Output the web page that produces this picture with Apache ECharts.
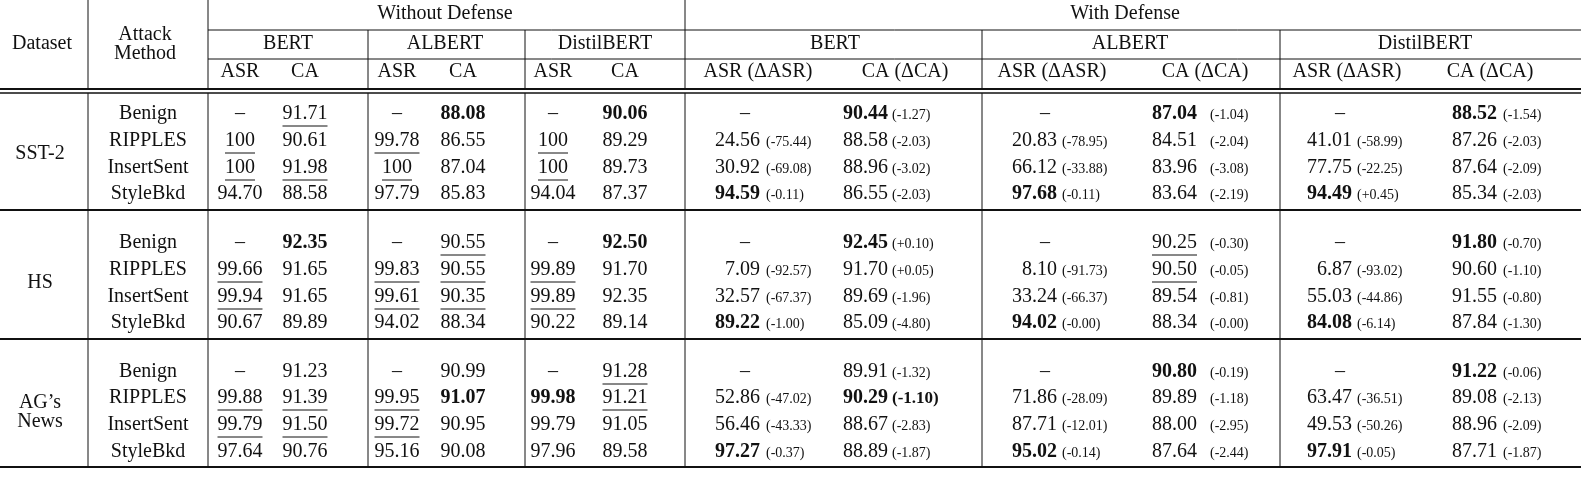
<!DOCTYPE html>
<html><head><meta charset="utf-8">
<script src="https://cdn.jsdelivr.net/npm/echarts@6/dist/echarts.min.js"></script>
<style>html,body{margin:0;background:#fff}#c{width:1581px;height:488px}</style>
</head><body><div id="c"></div>
<script>
const datasets = ['SST-2', 'HS', 'AG\u2019s\nNews'];
const methods = ['Benign', 'RIPPLES', 'InsertSent', 'StyleBkd'];
const models = ['BERT', 'ALBERT', 'DistilBERT'];

// without defense: ASR, CA per model
const noDef = [
  ['–','91.71','–','88.08','–','90.06'],
  ['100','90.61','99.78','86.55','100','89.29'],
  ['100','91.98','100','87.04','100','89.73'],
  ['94.70','88.58','97.79','85.83','94.04','87.37'],
  ['–','92.35','–','90.55','–','92.50'],
  ['99.66','91.65','99.83','90.55','99.89','91.70'],
  ['99.94','91.65','99.61','90.35','99.89','92.35'],
  ['90.67','89.89','94.02','88.34','90.22','89.14'],
  ['–','91.23','–','90.99','–','91.28'],
  ['99.88','91.39','99.95','91.07','99.98','91.21'],
  ['99.79','91.50','99.72','90.95','99.79','91.05'],
  ['97.64','90.76','95.16','90.08','97.96','89.58']
];
// with defense values
const withDef = [
  ['–','90.44','–','87.04','–','88.52'],
  ['24.56','88.58','20.83','84.51','41.01','87.26'],
  ['30.92','88.96','66.12','83.96','77.75','87.64'],
  ['94.59','86.55','97.68','83.64','94.49','85.34'],
  ['–','92.45','–','90.25','–','91.80'],
  ['7.09','91.70','8.10','90.50','6.87','90.60'],
  ['32.57','89.69','33.24','89.54','55.03','91.55'],
  ['89.22','85.09','94.02','88.34','84.08','87.84'],
  ['–','89.91','–','90.80','–','91.22'],
  ['52.86','90.29','71.86','89.89','63.47','89.08'],
  ['56.46','88.67','87.71','88.00','49.53','88.96'],
  ['97.27','88.89','95.02','87.64','97.91','87.71']
];
const deltas = [
  ['','(-1.27)','','(-1.04)','','(-1.54)'],
  ['(-75.44)','(-2.03)','(-78.95)','(-2.04)','(-58.99)','(-2.03)'],
  ['(-69.08)','(-3.02)','(-33.88)','(-3.08)','(-22.25)','(-2.09)'],
  ['(-0.11)','(-2.03)','(-0.11)','(-2.19)','(+0.45)','(-2.03)'],
  ['','(+0.10)','','(-0.30)','','(-0.70)'],
  ['(-92.57)','(+0.05)','(-91.73)','(-0.05)','(-93.02)','(-1.10)'],
  ['(-67.37)','(-1.96)','(-66.37)','(-0.81)','(-44.86)','(-0.80)'],
  ['(-1.00)','(-4.80)','(-0.00)','(-0.00)','(-6.14)','(-1.30)'],
  ['','(-1.32)','','(-0.19)','','(-0.06)'],
  ['(-47.02)','(-1.10)','(-28.09)','(-1.18)','(-36.51)','(-2.13)'],
  ['(-43.33)','(-2.83)','(-12.01)','(-2.95)','(-50.26)','(-2.09)'],
  ['(-0.37)','(-1.87)','(-0.14)','(-2.44)','(-0.05)','(-1.87)']
];
// emphasis: [table 'n'|'w', row, col]
const boldCells = [
  ['n',0,3],['n',0,5],['w',0,1],['w',0,3],['w',0,5],['w',3,0],['w',3,2],['w',3,4],
  ['n',4,1],['n',4,5],['w',4,1],['w',4,5],['w',7,0],['w',7,2],['w',7,4],
  ['n',9,3],['n',9,4],['w',8,3],['w',8,5],['w',9,1],['w',11,0],['w',11,2],['w',11,4]
];
const underlineCells = [
  ['n',0,1],['n',1,0],['n',1,2],['n',1,4],['n',2,0],['n',2,1],['n',2,2],['n',2,4],
  ['n',4,3],['n',5,0],['n',5,2],['n',5,3],['n',5,4],['n',6,0],['n',6,2],['n',6,3],['n',6,4],
  ['w',4,3],['w',5,3],
  ['n',8,5],['n',9,0],['n',9,1],['n',9,2],['n',9,5],['n',10,0],['n',10,1],['n',10,2]
];
const boldDelta = [[9,1]];

const FONT = '"Liberation Serif", "DejaVu Serif", serif';
const FS = 20, DS = 14;
const ctx = document.createElement('canvas').getContext('2d');
function tw(t, size, bold) { ctx.font = (bold ? 'bold ' : '') + size + 'px ' + FONT; return ctx.measureText(t).width; }
const has = (list, t, r, c) => list.some(e => e[0] === t && e[1] === r && e[2] === c);

const rowY = [114,141,168,194, 243,270,297,323, 372,398,425,452];
const noDefX = [240,305,397,463,553,625];
const wdValR = [760,888,1057,1197,1352,1497];
const wdDelL = [766,892,1062,1210,1357,1503];
const wdDash = [745,1045,1340];

const g = [];
function text(t, x, y, opt) {
  opt = opt || {};
  g.push({ type: 'text', x, y, style: { text: t, font: (opt.bold ? 'bold ' : '') + (opt.size || FS) + 'px ' + FONT,
    fill: '#111', align: opt.align || 'center', verticalAlign: 'middle', lineHeight: 19 } });
  if (opt.under) {
    const w = tw(t, opt.size || FS, opt.bold);
    const x0 = opt.align === 'right' ? x - w : opt.align === 'left' ? x : x - w / 2;
    line(x0, y + 12, x0 + w, y + 12, 1);
  }
}
function line(x1, y1, x2, y2, w) {
  g.push({ type: 'line', shape: { x1, y1, x2, y2 }, style: { stroke: '#111', lineWidth: w || 1 } });
}

// header
text('Dataset', 42, 44);
text('Attack\nMethod', 145, 44);
text('Without Defense', 445, 14);
text('With Defense', 1125, 14);
[288, 445, 605].forEach((x, i) => text(models[i], x, 44));
[835, 1130, 1425].forEach((x, i) => text(models[i], x, 44));
noDefX.forEach((x, i) => text(i % 2 ? 'CA' : 'ASR', x, 72));
[758, 905, 1052, 1205, 1347, 1490].forEach((x, i) => text(i % 2 ? 'CA (ΔCA)' : 'ASR (ΔASR)', x, 72, {}));

// rules
line(208, 30, 1581, 30); line(208, 59, 1581, 59);
line(0, 89, 1581, 89, 2); line(0, 93, 1581, 93, 1.5);
line(0, 210, 1581, 210, 2); line(0, 339, 1581, 339, 2); line(0, 467, 1581, 467, 2);
[88, 208, 685].forEach(x => { line(x, 0, x, 89); line(x, 93, x, 467); });
[368, 525, 982, 1280].forEach(x => { line(x, 30, x, 89); line(x, 93, x, 467); });

// body
datasets.forEach((d, i) => text(d, 40, (rowY[i * 4] + rowY[i * 4 + 3]) / 2));
rowY.forEach((y, r) => {
  text(methods[r % 4], 148, y);
  noDef[r].forEach((v, c) => text(v, noDefX[c], y, { bold: has(boldCells, 'n', r, c), under: has(underlineCells, 'n', r, c) }));
  withDef[r].forEach((v, c) => {
    if (v === '–') { text(v, wdDash[c / 2], y); return; }
    text(v, wdValR[c], y, { align: 'right', bold: has(boldCells, 'w', r, c), under: has(underlineCells, 'w', r, c) });
    const bd = boldDelta.some(e => e[0] === r && e[1] === c);
    text(deltas[r][c], wdDelL[c], y + 1, { align: 'left', size: bd ? 17 : DS, bold: bd });
  });
});

const chart = echarts.init(document.getElementById('c'), null, { renderer: 'canvas' });
chart.setOption({ backgroundColor: '#fff', animation: false, graphic: g, series: [] });
</script></body></html>
